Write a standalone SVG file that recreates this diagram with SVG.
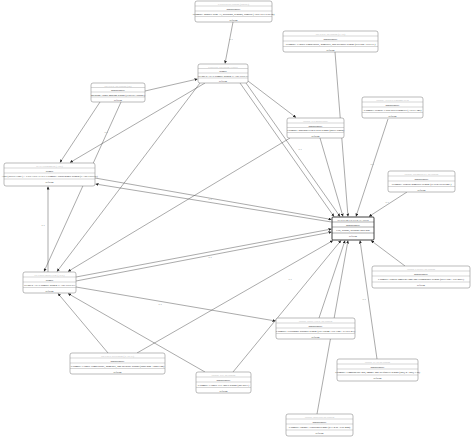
<svg xmlns="http://www.w3.org/2000/svg" width="474" height="439" viewBox="0 0 474 439">
<defs>
<marker id="arr" viewBox="0 0 4 4" markerWidth="3" markerHeight="3" refX="4" refY="2" orient="auto" markerUnits="userSpaceOnUse">
<path d="M0,0 L4,2 L0,4 z" fill="#222"/>
</marker>
</defs>
<style>
.node rect{fill:#fff;stroke:#777;stroke-width:0.5}
.node line{stroke:#999;stroke-width:0.4}
.node text{font-family:"Liberation Serif",serif;font-size:2.8px;text-anchor:middle;fill:#222}
.node text.t{fill:#aaa}
#node-h rect{stroke:#111;stroke-width:0.8}
#node-h line{stroke:#333}
#node-h text.t{fill:#333}
.edges line{stroke:#444;stroke-width:0.45;marker-end:url(#arr)}
.lbl{font-family:"Liberation Serif",serif;font-size:2.8px;fill:#555;text-anchor:middle}
</style>
<rect x="0" y="0" width="474" height="439" fill="#fff"/>
<g class="edges" id="edges">
<line x1="233" y1="22" x2="225" y2="63.5"/>
<line x1="145" y1="91" x2="197.5" y2="79"/>
<line x1="248" y1="81" x2="296" y2="117.5"/>
<line x1="240" y1="83" x2="334" y2="216.5"/>
<line x1="246" y1="83" x2="340" y2="216.5"/>
<line x1="335" y1="52" x2="348" y2="216.5"/>
<line x1="320" y1="138" x2="343" y2="216.5"/>
<line x1="388" y1="119" x2="356" y2="216.5"/>
<line x1="407" y1="192" x2="369" y2="216.5"/>
<line x1="100" y1="102" x2="60" y2="162.5"/>
<line x1="205" y1="83" x2="70" y2="162.5"/>
<line x1="121" y1="102" x2="44" y2="271.5"/>
<line x1="200" y1="83" x2="57" y2="271.5"/>
<line x1="290" y1="138" x2="68" y2="271.5"/>
<line x1="48" y1="272" x2="48" y2="186.5"/>
<line x1="331.5" y1="222" x2="95.5" y2="184"/>
<line x1="95" y1="178" x2="331.5" y2="219.5"/>
<line x1="76" y1="277" x2="331.5" y2="229"/>
<line x1="76" y1="281" x2="331.5" y2="232"/>
<line x1="76" y1="287" x2="275.5" y2="321"/>
<line x1="108" y1="353" x2="58" y2="293.5"/>
<line x1="205" y1="372" x2="68" y2="293.5"/>
<line x1="137" y1="353" x2="333" y2="240.5"/>
<line x1="233" y1="372" x2="341" y2="240.5"/>
<line x1="319" y1="318" x2="345" y2="240.5"/>
<line x1="317" y1="414" x2="348" y2="240.5"/>
<line x1="377" y1="359" x2="360" y2="240.5"/>
<line x1="405" y1="266" x2="371" y2="240.5"/>
</g>
<g id="edge-labels">
<text class="lbl" x="231" y="40">1/1</text>
<text class="lbl" x="300" y="150">1/1</text>
<text class="lbl" x="372" y="165">1/1</text>
<text class="lbl" x="387" y="203">1/1</text>
<text class="lbl" x="43" y="226">1/1</text>
<text class="lbl" x="106" y="133">1/1</text>
<text class="lbl" x="210" y="200">1/1</text>
<text class="lbl" x="210" y="258">1/1</text>
<text class="lbl" x="160" y="305">1/1</text>
<text class="lbl" x="290" y="280">1/1</text>
<text class="lbl" x="364" y="300">1/1</text>
</g>
<g id="node-a" class="node">
<rect x="195" y="1" width="77" height="21" rx="2"/>
<line x1="195" y1="6" x2="272" y2="6"/><line x1="195" y1="11" x2="272" y2="11"/><line x1="195" y1="16.5" x2="272" y2="16.5"/>
<text class="t" x="233.5" y="4.8">CLOUD SENSOR (PROC)</text>
<text x="233.5" y="9.8">ModBrowse</text>
<text x="233.5" y="15">Example: Mobile Bios AI, actuators, sensors, camera (AWS IOT/ESP32)</text>
<text x="233.5" y="20.5">refresh</text>
</g>
<g id="node-b" class="node">
<rect x="283" y="31" width="95" height="21" rx="2"/>
<line x1="283" y1="36" x2="378" y2="36"/><line x1="283" y1="41" x2="378" y2="41"/><line x1="283" y1="46.5" x2="378" y2="46.5"/>
<text class="t" x="330.5" y="34.8">DEVICE SENSOR (T+H)</text>
<text x="330.5" y="39.8">ModBrowse</text>
<text x="330.5" y="45">Example: Legacy temperature, humidity, and pressure sensor (DHT22 / SHT31)</text>
<text x="330.5" y="50.5">refresh</text>
</g>
<g id="node-c" class="node">
<rect x="198" y="64" width="50" height="19" rx="2"/>
<line x1="198" y1="68.5" x2="248" y2="68.5"/><line x1="198" y1="73" x2="248" y2="73"/><line x1="198" y1="78" x2="248" y2="78"/>
<text class="t" x="223" y="67.5">ENGINE INTEGRATION</text>
<text x="223" y="72">Bionic</text>
<text x="223" y="76.8">HTML5 API Example plugin: CARLTON-C</text>
<text x="223" y="81.8">refresh</text>
</g>
<g id="node-d" class="node">
<rect x="91" y="83" width="54" height="19" rx="2"/>
<line x1="91" y1="87.5" x2="145" y2="87.5"/><line x1="91" y1="92" x2="145" y2="92"/><line x1="91" y1="97" x2="145" y2="97"/>
<text class="t" x="118" y="86.5">DEVICE SENSOR (IR)</text>
<text x="118" y="91">ModBrowse</text>
<text x="118" y="95.8">Message: Body motion sensor (PIR/HC-SR501)</text>
<text x="118" y="100.8">refresh</text>
</g>
<g id="node-e" class="node">
<rect x="362" y="97" width="61" height="21" rx="2"/>
<line x1="362" y1="102" x2="423" y2="102"/><line x1="362" y1="107" x2="423" y2="107"/><line x1="362" y1="112.5" x2="423" y2="112.5"/>
<text class="t" x="392.5" y="100.8">NODE ACCELEROMETER</text>
<text x="392.5" y="105.8">ModBrowse</text>
<text x="392.5" y="111">Example: Digital 3-axis accelerometer (ADXL345)</text>
<text x="392.5" y="116.5">refresh</text>
</g>
<g id="node-f" class="node">
<rect x="287" y="118" width="57" height="20" rx="2"/>
<line x1="287" y1="123" x2="344" y2="123"/><line x1="287" y1="127.5" x2="344" y2="127.5"/><line x1="287" y1="132.5" x2="344" y2="132.5"/>
<text class="t" x="315.5" y="121.8">NODE GYROSCOPE</text>
<text x="315.5" y="126.5">ModBrowse</text>
<text x="315.5" y="131.3">Example: Motion/Gyro 6-axis sensor (MPU-6050)</text>
<text x="315.5" y="136.5">refresh</text>
</g>
<g id="node-g" class="node">
<rect x="4" y="163" width="91" height="23" rx="2"/>
<line x1="4" y1="168" x2="95" y2="168"/><line x1="4" y1="173" x2="95" y2="173"/><line x1="4" y1="179" x2="95" y2="179"/>
<text class="t" x="49.5" y="166.8">DATAFORMER (APP)</text>
<text x="49.5" y="171.8">Bionic</text>
<text x="49.5" y="177.3">Ajax (JSON/XML) + CSV/TSV/XLSX Example: DataFormer plugin (CARLTON-D)</text>
<text x="49.5" y="183">refresh</text>
</g>
<g id="node-i" class="node">
<rect x="388" y="171" width="67" height="21" rx="2"/>
<line x1="388" y1="176" x2="455" y2="176"/><line x1="388" y1="181" x2="455" y2="181"/><line x1="388" y1="186.5" x2="455" y2="186.5"/>
<text class="t" x="421.5" y="174.8">NODE HUMIDITY SENSOR</text>
<text x="421.5" y="179.8">ModBrowse</text>
<text x="421.5" y="185">Example: Digital humidity sensor (HTU21D/Si7021)</text>
<text x="421.5" y="190.5">refresh</text>
</g>
<g id="node-h" class="node">
<rect x="332" y="217" width="42" height="23" rx="1"/>
<line x1="332" y1="222" x2="374" y2="222"/><line x1="332" y1="227" x2="374" y2="227"/><line x1="332" y1="233" x2="374" y2="233"/>
<text class="t" x="353" y="220.8">SYSTEM CENTRAL HUB</text>
<text x="353" y="225.8">ModBrowse</text>
<text x="353" y="231.3">Ctrl, sensor, actuator data hub</text>
<text x="353" y="237">refresh</text>
</g>
<g id="node-j" class="node">
<rect x="372" y="266" width="98" height="22" rx="2"/>
<line x1="372" y1="271" x2="470" y2="271"/><line x1="372" y1="276" x2="470" y2="276"/><line x1="372" y1="282" x2="470" y2="282"/>
<text class="t" x="421" y="269.8">NODE LIGHT SENSOR</text>
<text x="421" y="274.8">ModBrowse</text>
<text x="421" y="280.3">Example: Digital ambient light and illuminance sensor (BH1750 / TSL2561)</text>
<text x="421" y="286">refresh</text>
</g>
<g id="node-k" class="node">
<rect x="23" y="272" width="53" height="21" rx="2"/>
<line x1="23" y1="277" x2="76" y2="277"/><line x1="23" y1="282" x2="76" y2="282"/><line x1="23" y1="287.5" x2="76" y2="287.5"/>
<text class="t" x="49.5" y="275.8">UI CONTROLLER (APP)</text>
<text x="49.5" y="280.8">Bionic</text>
<text x="49.5" y="286">HTML5 API Example plugin: CARLTON-UI</text>
<text x="49.5" y="291.5">refresh</text>
</g>
<g id="node-l" class="node">
<rect x="276" y="318" width="79" height="21" rx="2"/>
<line x1="276" y1="323" x2="355" y2="323"/><line x1="276" y1="328" x2="355" y2="328"/><line x1="276" y1="333.5" x2="355" y2="333.5"/>
<text class="t" x="315.5" y="321.8">NODE DISTANCE SENSOR</text>
<text x="315.5" y="326.8">ModBrowse</text>
<text x="315.5" y="332">Example: Ultrasonic distance sensor (HC-SR04 / US-100 / VL53L0X)</text>
<text x="315.5" y="337.5">refresh</text>
</g>
<g id="node-m" class="node">
<rect x="70" y="353" width="95" height="21" rx="2"/>
<line x1="70" y1="358" x2="165" y2="358"/><line x1="70" y1="363" x2="165" y2="363"/><line x1="70" y1="368.5" x2="165" y2="368.5"/>
<text class="t" x="117.5" y="356.8">DEVICE SENSOR (T+H+P)</text>
<text x="117.5" y="361.8">ModBrowse</text>
<text x="117.5" y="367">Example: Legacy temperature, humidity, and pressure sensor (BME280 / BMP180)</text>
<text x="117.5" y="372.5">refresh</text>
</g>
<g id="node-n" class="node">
<rect x="196" y="372" width="55" height="21" rx="2"/>
<line x1="196" y1="377" x2="251" y2="377"/><line x1="196" y1="382" x2="251" y2="382"/><line x1="196" y1="387.5" x2="251" y2="387.5"/>
<text class="t" x="223.5" y="375.8">NODE UV SENSOR</text>
<text x="223.5" y="380.8">ModBrowse</text>
<text x="223.5" y="386">Example: Legacy UV index sensor (ML8511)</text>
<text x="223.5" y="391.5">refresh</text>
</g>
<g id="node-o" class="node">
<rect x="337" y="359" width="81" height="22" rx="2"/>
<line x1="337" y1="364" x2="418" y2="364"/><line x1="337" y1="369" x2="418" y2="369"/><line x1="337" y1="375" x2="418" y2="375"/>
<text class="t" x="377.5" y="362.8">NODE GAS SENSOR</text>
<text x="377.5" y="367.8">ModBrowse</text>
<text x="377.5" y="373.3">Example: Combustible gas, smoke and air quality sensor (MQ-2 / MQ-135)</text>
<text x="377.5" y="379">refresh</text>
</g>
<g id="node-p" class="node">
<rect x="286" y="414" width="67" height="22" rx="2"/>
<line x1="286" y1="419" x2="353" y2="419"/><line x1="286" y1="424" x2="353" y2="424"/><line x1="286" y1="430" x2="353" y2="430"/>
<text class="t" x="319.5" y="417.8">NODE SOUND SENSOR</text>
<text x="319.5" y="422.8">ModBrowse</text>
<text x="319.5" y="428.3">Example: Sound / vibration sensor (KY-038 / SW-420)</text>
<text x="319.5" y="434">refresh</text>
</g>
</svg>
